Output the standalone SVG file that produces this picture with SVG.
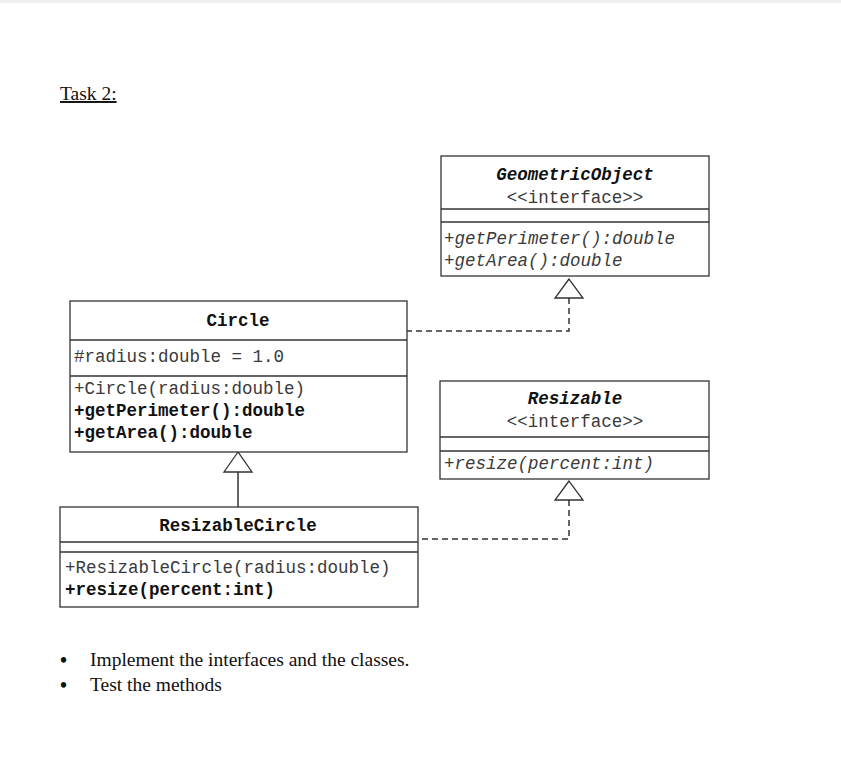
<svg xmlns="http://www.w3.org/2000/svg" width="841" height="774" viewBox="0 0 841 774">
<style>
.box{fill:#fff;stroke:#333;stroke-width:1.3}
.div{stroke:#333;stroke-width:1.3}
.m{font-family:"Liberation Mono","DejaVu Sans Mono",monospace;font-size:17.5px;fill:#3a3a3a}
.b{font-weight:bold;fill:#111}
.i{font-style:italic}
.c{text-anchor:middle}
.dash{fill:none;stroke:#333;stroke-width:1.5;stroke-dasharray:6,4}
.solid{fill:none;stroke:#333;stroke-width:1.5}
.tri{fill:#fff;stroke:#333;stroke-width:1.3}
.t{font-family:"Liberation Serif","Times New Roman",serif;font-size:19.5px;fill:#111}
.bul{font-family:"Liberation Serif","Times New Roman",serif;font-size:20px;font-weight:bold;fill:#111}
</style>
<rect width="841" height="774" fill="#fff"/>
<rect width="841" height="3" fill="#eee"/>
<text class="t" x="60" y="100" text-decoration="underline">Task 2:</text>

<g id="connectors">
<polyline class="dash" points="569,298 569,331 407,331"/>
<polyline class="dash" points="569,500 569,539 418,539"/>
<line class="solid" x1="238" y1="472" x2="238" y2="507"/>
<polygon class="tri" points="569,279 555,298 583,298"/>
<polygon class="tri" points="569,481 555,500 583,500"/>
<polygon class="tri" points="238,452 224,472 252,472"/>
</g>

<g id="GeometricObject">
<rect class="box" x="441" y="156" width="268" height="120"/>
<line class="div" x1="441" y1="209" x2="709" y2="209"/>
<line class="div" x1="441" y1="222" x2="709" y2="222"/>
<text class="m b i c" x="575" y="180">GeometricObject</text>
<text class="m c" x="575" y="203">&lt;&lt;interface&gt;&gt;</text>
<text class="m i" x="444" y="244">+getPerimeter():double</text>
<text class="m i" x="444" y="266">+getArea():double</text>
</g>

<g id="Circle">
<rect class="box" x="70" y="301" width="337" height="151"/>
<line class="div" x1="70" y1="340" x2="407" y2="340"/>
<line class="div" x1="70" y1="376" x2="407" y2="376"/>
<text class="m b c" x="238" y="326">Circle</text>
<text class="m" x="74" y="362">#radius:double = 1.0</text>
<text class="m" x="74" y="394">+Circle(radius:double)</text>
<text class="m b" x="74" y="416">+getPerimeter():double</text>
<text class="m b" x="74" y="438">+getArea():double</text>
</g>

<g id="Resizable">
<rect class="box" x="440" y="381" width="269" height="98"/>
<line class="div" x1="440" y1="437" x2="709" y2="437"/>
<line class="div" x1="440" y1="451" x2="709" y2="451"/>
<text class="m b i c" x="575" y="404">Resizable</text>
<text class="m c" x="575" y="427">&lt;&lt;interface&gt;&gt;</text>
<text class="m i" x="444" y="469">+resize(percent:int)</text>
</g>

<g id="ResizableCircle">
<rect class="box" x="60" y="507" width="358" height="100"/>
<line class="div" x1="60" y1="542" x2="418" y2="542"/>
<line class="div" x1="60" y1="552" x2="418" y2="552"/>
<text class="m b c" x="238" y="531">ResizableCircle</text>
<text class="m" x="65" y="573">+ResizableCircle(radius:double)</text>
<text class="m b" x="65" y="595">+resize(percent:int)</text>
</g>

<text class="bul" x="60" y="667">•</text>
<text class="t" x="90" y="666">Implement the interfaces and the classes.</text>
<text class="bul" x="60" y="692">•</text>
<text class="t" x="90" y="691">Test the methods</text>
</svg>
